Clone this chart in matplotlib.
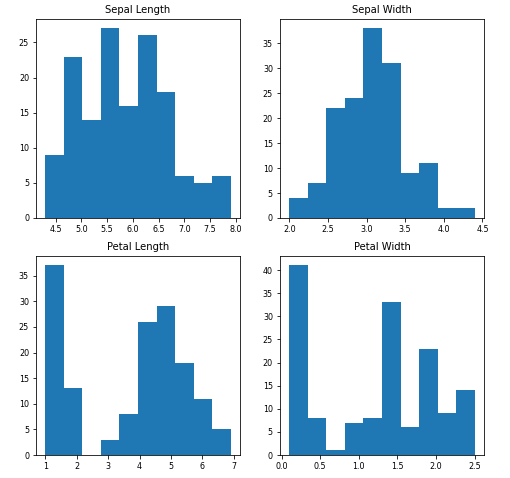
import matplotlib
matplotlib.use("Agg")
import matplotlib.pyplot as plt
import numpy as np

# iris features, 10 bins each: (title, min, max, counts)
titles = ["Sepal Length", "Sepal Width", "Petal Length", "Petal Width"]
ranges = [(4.3, 7.9), (2.0, 4.4), (1.0, 6.9), (0.1, 2.5)]
sepal_length_counts = [9, 23, 14, 27, 16, 26, 18, 6, 5, 6]
sepal_width_counts = [4, 7, 22, 24, 38, 31, 9, 11, 2, 2]
petal_length_counts = [37, 13, 0, 3, 8, 26, 29, 18, 11, 5]
petal_width_counts = [41, 8, 1, 7, 8, 33, 6, 23, 9, 14]
all_counts = [sepal_length_counts, sepal_width_counts,
              petal_length_counts, petal_width_counts]

fig = plt.figure(figsize=(510 / 72, 478 / 72), dpi=72)

# axes positions in figure fractions
lefts = [0.0706, 0.549, 0.0706, 0.549]
bottoms = [0.544, 0.544, 0.0481, 0.0481]

for i in range(4):
    ax = fig.add_axes([lefts[i], bottoms[i], 0.4, 0.4163])
    lo, hi = ranges[i]
    edges = np.linspace(lo, hi, len(all_counts[i]) + 1)
    ax.hist(edges[:-1], bins=edges, weights=all_counts[i], color='C0')
    ax.set_title(titles[i], fontsize=10)
    ax.tick_params(labelsize=8)

plt.savefig("out.png", dpi=72)
